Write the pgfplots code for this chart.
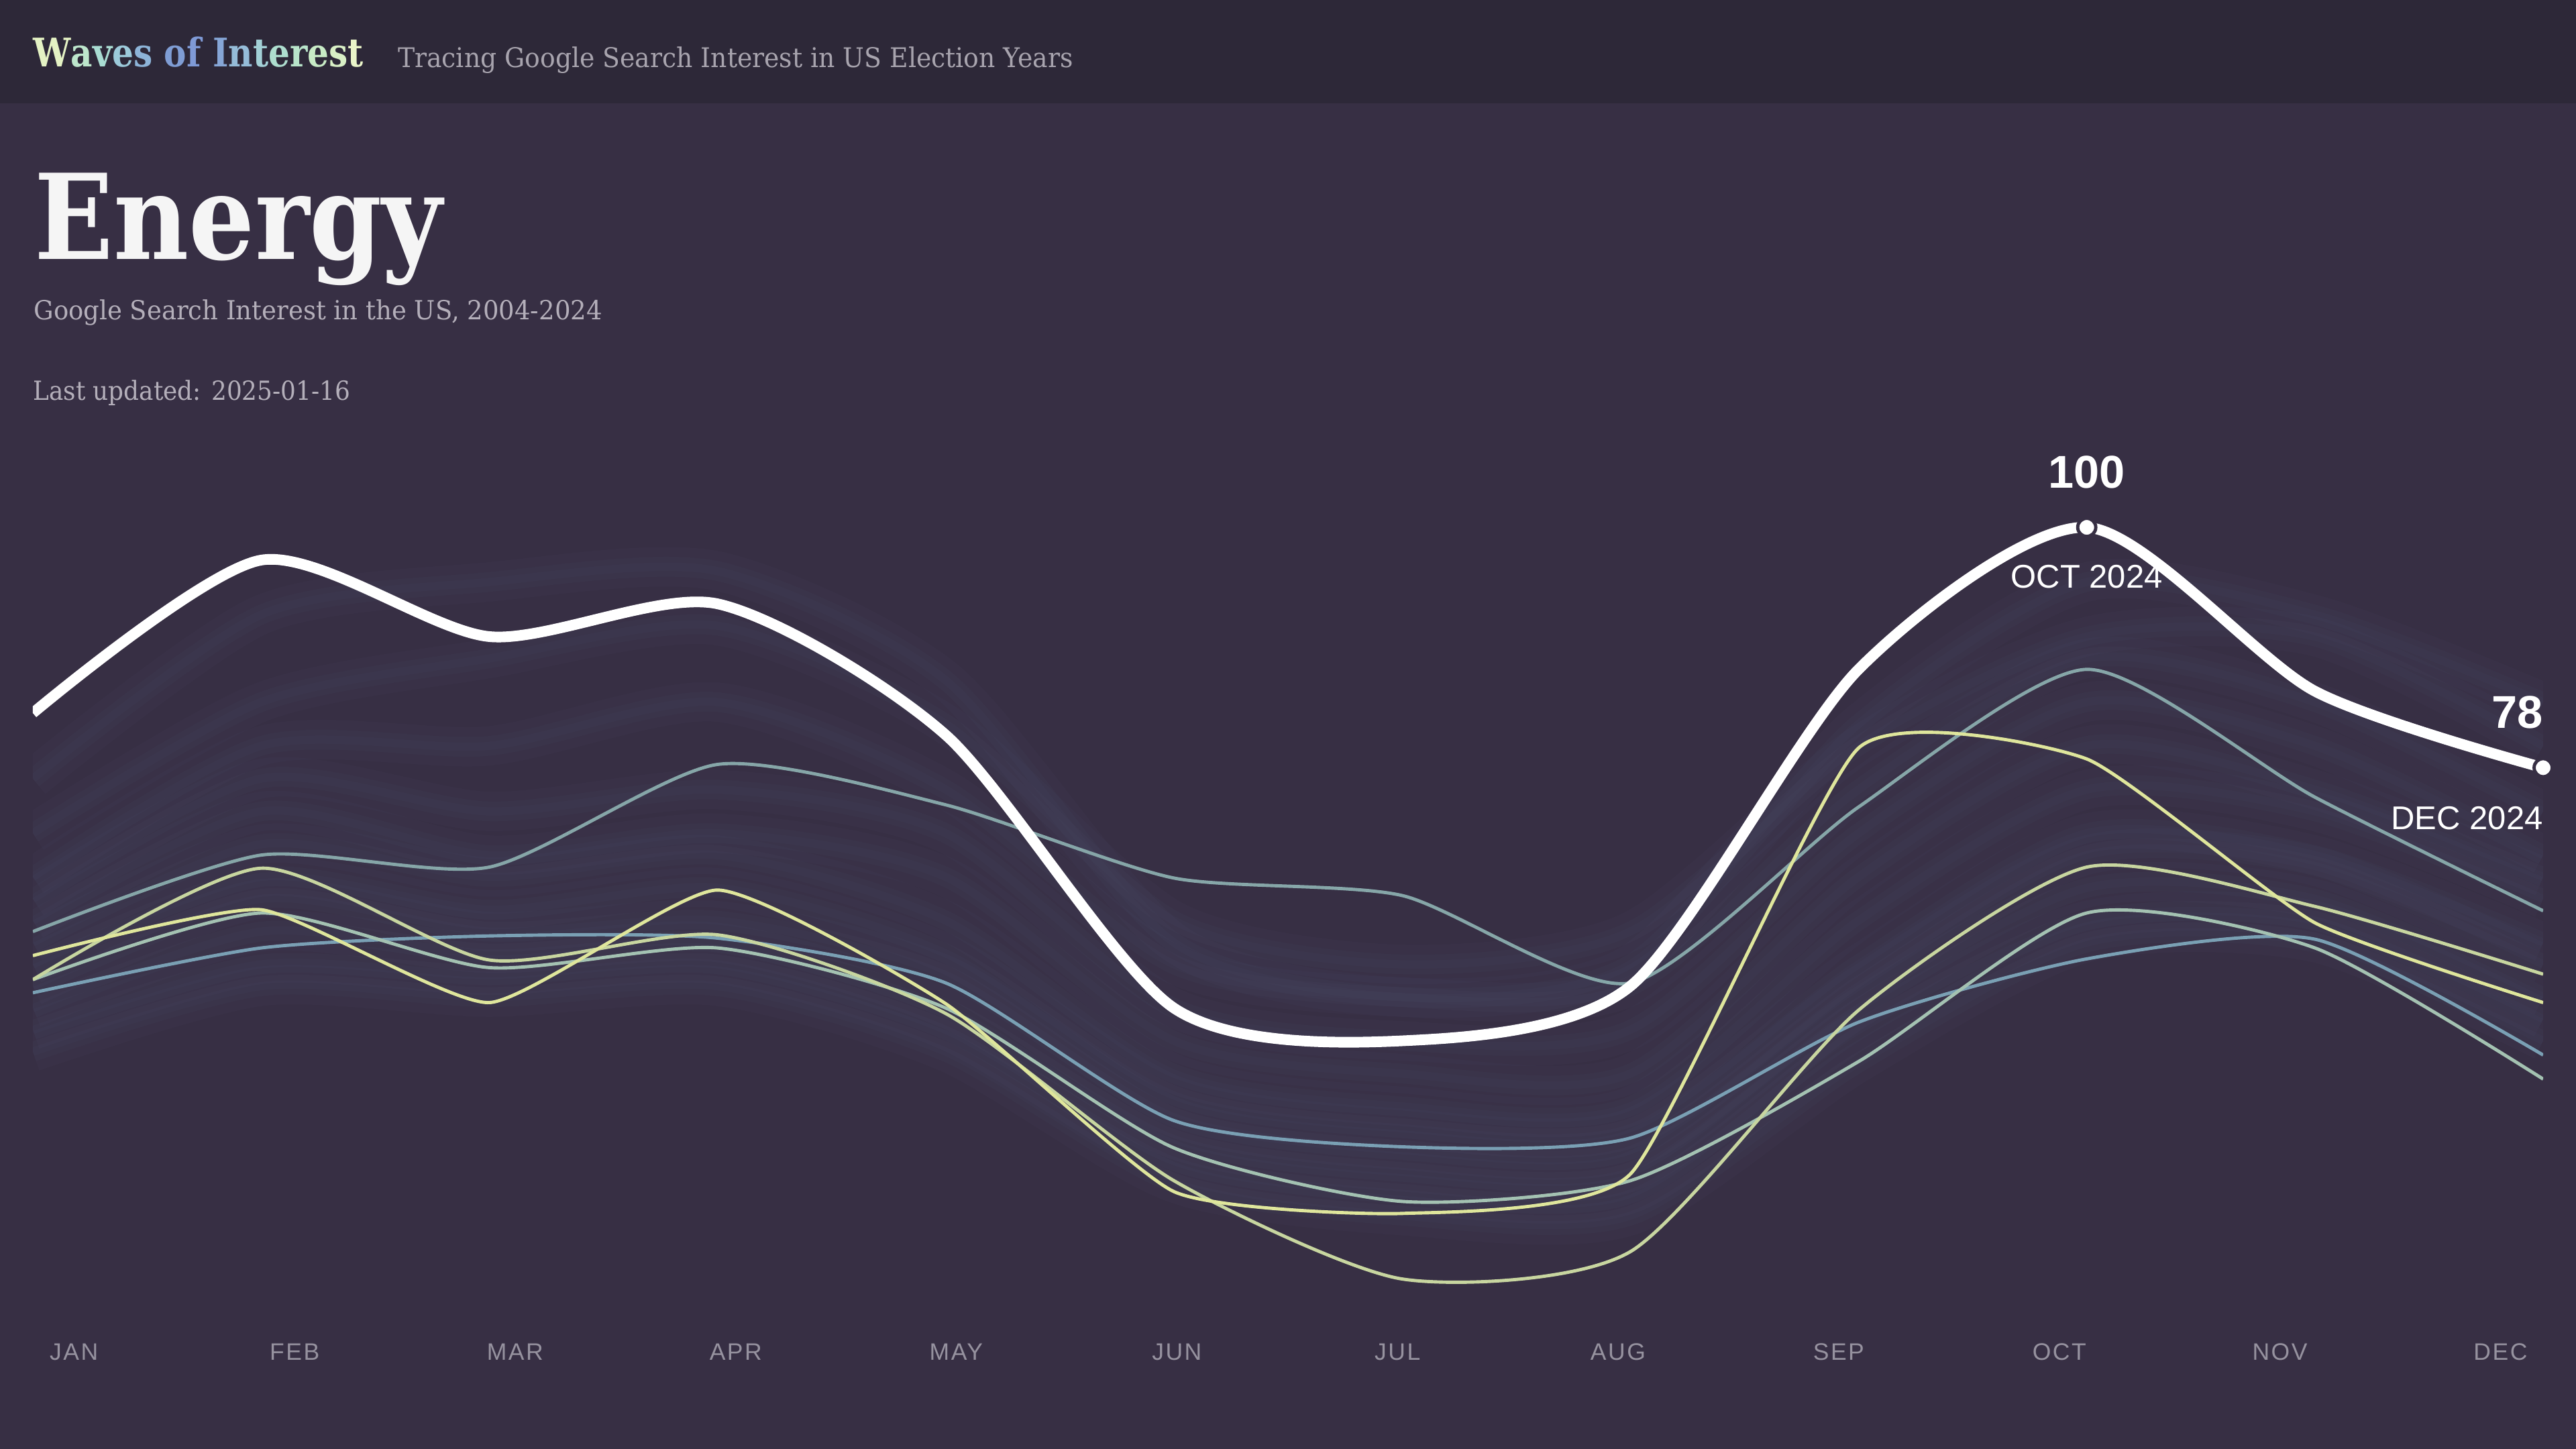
\documentclass[border=0pt]{standalone}
\usepackage{graphicx}
\usepackage{pgfplots}
\pgfplotsset{compat=1.18}
\usepackage{pgfplotstable}
\usepackage{fontspec}
\setmainfont{DejaVu Serif}
\newfontfamily\slab{DejaVu Serif}
\newfontfamily\sans{Liberation Sans}
\newfontfamily\monthface[LetterSpace=7]{Liberation Sans}

\definecolor{bgmain}{HTML}{372F44}
\definecolor{bghead}{HTML}{2D2838}
\definecolor{headgrey}{HTML}{A8A4AE}
\definecolor{subgrey}{HTML}{B4AFBA}
\definecolor{monthgrey}{HTML}{96929F}
\definecolor{titlewhite}{HTML}{F5F5F5}
\definecolor{cteal}{HTML}{86A6A8}
\definecolor{cyellow}{HTML}{DFE69C}
\definecolor{cygreen}{HTML}{C8D6A0}
\definecolor{cgreen}{HTML}{A4C2B2}
\definecolor{cblue}{HTML}{7AA0B4}
\definecolor{wave}{HTML}{7080A4}

% gradient letters of the site name
\definecolor{g1}{HTML}{E4F2C4}\definecolor{g2}{HTML}{BDE6CC}
\definecolor{g3}{HTML}{A9DCD2}\definecolor{g4}{HTML}{9CCADA}
\definecolor{g5}{HTML}{8DB4D8}\definecolor{g6}{HTML}{7F9DD4}
\definecolor{g7}{HTML}{7F9AD6}\definecolor{g8}{HTML}{86A6D6}
\definecolor{g9}{HTML}{95BCD8}\definecolor{g10}{HTML}{A2D0D6}
\definecolor{g11}{HTML}{AEDECF}\definecolor{g12}{HTML}{B8E4CA}
\definecolor{g13}{HTML}{C8EBC6}\definecolor{g14}{HTML}{D9F0C6}
\definecolor{g15}{HTML}{EAF5C9}

% set a line of text and stretch it horizontally to a given width
\newlength\fitlen
\newcommand\fitw[2]{\settowidth\fitlen{#2}%
  \pgfmathsetmacro\fitratio{#1/\fitlen}\scalebox{\fitratio}[1]{#2}}

% monthly search interest, election years
\pgfplotstableread{
m  white teal yellow ygreen green blue
0   83  63.0  60.8  58.6  58.6  57.4
1   97  70.0  65.0  68.8  64.7  61.5
2   90  68.9  56.5  60.4  59.7  62.6
3   93  78.3  66.8  62.7  61.5  62.4
4   81  74.6  56.4  55.5  56.0  58.3
5   56  67.9  39.2  40.2  43.2  45.7
6   53  66.3  37.2  31.2  38.3  43.3
7   58  58.3  40.8  33.7  40.2  44.1
8   87  74.4  79.8  55.8  51.1  54.7
9  100  87.0  78.8  68.9  64.7  60.5
10  85  75.3  63.8  65.3  61.5  62.3
11  78  64.9  56.5  59.1  49.5  51.7
}\elect

% monthly search interest, other years (drawn as soft background waves)
\pgfplotstableread{
m  w1 w2 w3 w4 w5 w6 w7 w8 w9 w10 w11
0  77 72 68 66 64 62 60 58 56 54 52
1  92 84 80 77 74 71 68 66 63 60 58
2  95 88 80 74 70 68 65 63 61 59 57
3  96 91 84 76 72 70 67 64 62 60 58
4  86 82 76 72 68 64 61 59 56 54 52
5  62 64 60 56 53 50 48 46 44 42 40
6  57 60 57 53 50 47 45 43 41 39 37
7  60 63 58 54 50 47 45 43 41 39 37
8  82 80 76 72 68 64 60 58 56 54 51
9  95 90 88 84 80 76 72 70 67 64 62
10 92 90 84 80 76 74 70 69 66 64 62
11 84 80 74 70 68 66 62 60 57 55 53
}\waves

\pgfplotsset{
  softwave/.style={draw=wave, line width=5pt, draw opacity=0.035, smooth, tension=0.45, no markers,
    preaction={draw=wave, line width=12pt, draw opacity=0.04},
    preaction={draw=wave, line width=24pt, draw opacity=0.035}},
  yearline/.style={line width=2pt, smooth, tension=0.4, no markers},
}

\begin{document}
\begin{tikzpicture}[x=1pt,y=1pt]
\useasboundingbox (0,0) rectangle (1568,882);
\fill[bgmain] (0,0) rectangle (1568,882);
\fill[bghead] (0,819) rectangle (1568,882);

% header
\node[anchor=base west, inner sep=0pt] at (20,841.2)
  {\fitw{201pt}{\slab\bfseries\fontsize{24}{24}\selectfont
   \textcolor{g1}{W}\textcolor{g2}{a}\textcolor{g3}{v}\textcolor{g4}{e}\textcolor{g5}{s}
   \textcolor{g6}{o}\textcolor{g7}{f}
   \textcolor{g8}{I}\textcolor{g9}{n}\textcolor{g10}{t}\textcolor{g11}{e}\textcolor{g12}{r}\textcolor{g13}{e}\textcolor{g14}{s}\textcolor{g15}{t}}};
\node[anchor=base west, inner sep=0pt, text=headgrey] at (242,841)
  {\fitw{411pt}{\slab\fontsize{16.5}{16.5}\selectfont Tracing Google Search Interest in US Election Years}};

% title block
\node[anchor=base west, inner sep=0pt, text=titlewhite] at (21,724.1)
  {\fitw{248pt}{\slab\bfseries\fontsize{72}{72}\selectfont Energy}};
\node[anchor=base west, inner sep=0pt, text=subgrey] at (20.4,687.4)
  {\fitw{346pt}{\slab\fontsize{16}{16}\selectfont Google Search Interest in the US, 2004-2024}};
\node[anchor=base west, inner sep=0pt, text=subgrey] at (20,638.4)
  {\fitw{193pt}{\slab\fontsize{16}{16}\selectfont Last updated: 2025-01-16}};

\begin{axis}[
  at={(20pt,62.25pt)}, anchor=south west,
  width=1528pt, height=578.55pt, scale only axis,
  xmin=0, xmax=11, ymin=25, ymax=112,
  axis line style={draw=none},
  major tick length=0pt,
  ytick=\empty,
  xtick={0.18,1.147,2.113,3.08,4.046,5.013,5.98,6.946,7.913,8.88,9.846,10.813},
  xticklabels={JAN,FEB,MAR,APR,MAY,JUN,JUL,AUG,SEP,OCT,NOV,DEC},
  xticklabel style={anchor=base, yshift=-8.25pt, inner sep=0pt,
    font=\monthface\fontsize{14.5}{14.5}\selectfont, text=monthgrey},
  clip mode=individual,
]
\addplot[softwave] table[x=m, y=w1] {\waves};
\addplot[softwave] table[x=m, y=w2] {\waves};
\addplot[softwave] table[x=m, y=w3] {\waves};
\addplot[softwave] table[x=m, y=w4] {\waves};
\addplot[softwave] table[x=m, y=w5] {\waves};
\addplot[softwave] table[x=m, y=w6] {\waves};
\addplot[softwave] table[x=m, y=w7] {\waves};
\addplot[softwave] table[x=m, y=w8] {\waves};
\addplot[softwave] table[x=m, y=w9] {\waves};
\addplot[softwave] table[x=m, y=w10] {\waves};
\addplot[softwave] table[x=m, y=w11] {\waves};

\addplot[yearline, cblue]   table[x=m, y=blue]   {\elect};
\addplot[yearline, cgreen]  table[x=m, y=green]  {\elect};
\addplot[yearline, cygreen] table[x=m, y=ygreen] {\elect};
\addplot[yearline, cteal]   table[x=m, y=teal]   {\elect};
\addplot[yearline, cyellow, tension=0.3] table[x=m, y=yellow] {\elect};

\addplot[white, line width=6.5pt, smooth, tension=0.45, no markers] table[x=m, y=white] {\elect};

\addplot[only marks, mark=*, mark size=5.5pt,
  mark options={fill=white, draw=bgmain, line width=2pt}] coordinates {(9,100) (11,78)};

\node[anchor=base, yshift=24pt, inner sep=0pt, text=white,
  font=\sans\bfseries\fontsize{28}{28}\selectfont] at (axis cs:9,100) {100};
\node[anchor=base, yshift=-37pt, inner sep=0pt, text=white,
  font=\sans\fontsize{20}{20}\selectfont] at (axis cs:9,100) {OCT 2024};
\node[anchor=base east, yshift=24pt, inner sep=0pt, text=white,
  font=\sans\bfseries\fontsize{28}{28}\selectfont] at (axis cs:11,78) {78};
\node[anchor=base east, yshift=-37.5pt, inner sep=0pt, text=white,
  font=\sans\fontsize{20}{20}\selectfont] at (axis cs:11,78) {DEC 2024};
\end{axis}
\end{tikzpicture}
\end{document}
